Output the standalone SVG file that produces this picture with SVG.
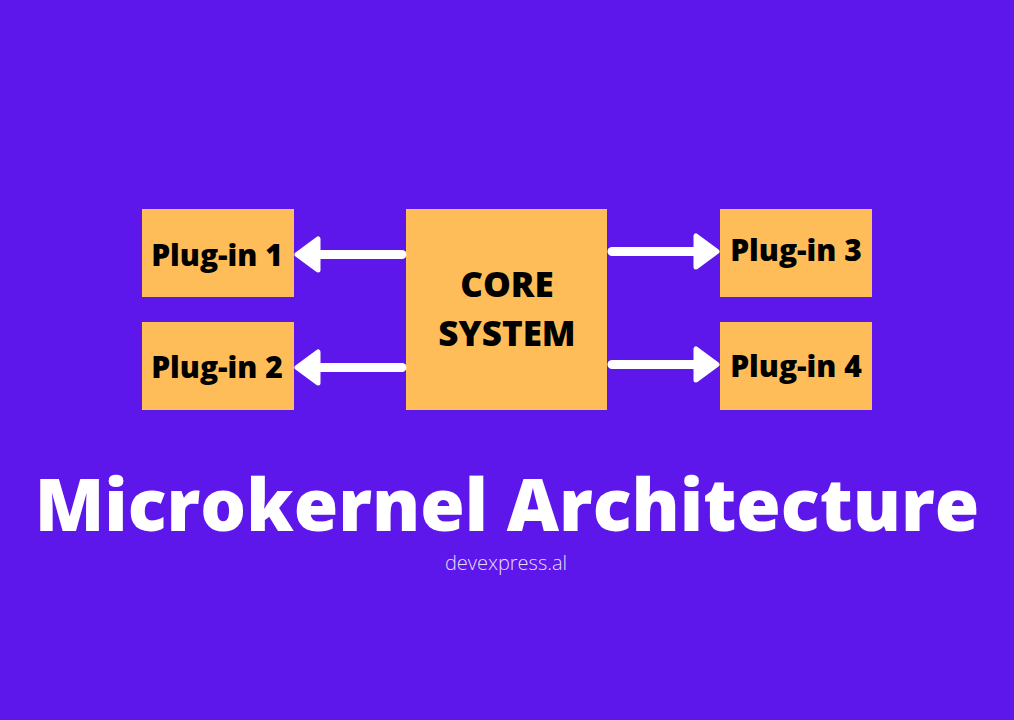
<svg xmlns="http://www.w3.org/2000/svg" width="1014" height="720" viewBox="0 0 1014 720">
<style>
.box{fill:#FFBD59;}
.lbl{font-family:"Open Sans","Liberation Sans",sans-serif;font-weight:800;fill:#000;text-anchor:middle;}
.shaft{stroke:#fff;stroke-width:9;stroke-linecap:round;fill:none;}
.head{fill:#fff;stroke:#fff;stroke-width:5;stroke-linejoin:round;}
</style>
<rect width="1014" height="720" fill="#5E17EB"/>
<g id="core"><rect class="box" x="406" y="209" width="201" height="201"/><text class="lbl" x="507" y="297" font-size="35">CORE</text><text class="lbl" x="507" y="346" font-size="35">SYSTEM</text></g>
<g id="plugin1"><rect class="box" x="142" y="209" width="152" height="88"/><text class="lbl" x="217" y="266" font-size="30">Plug-in 1</text></g>
<g id="plugin2"><rect class="box" x="142" y="322" width="152" height="88"/><text class="lbl" x="217" y="378" font-size="30">Plug-in 2</text></g>
<g id="plugin3"><rect class="box" x="720" y="209" width="152" height="88"/><text class="lbl" x="796" y="261" font-size="30">Plug-in 3</text></g>
<g id="plugin4"><rect class="box" x="720" y="322" width="152" height="88"/><text class="lbl" x="796" y="377" font-size="30">Plug-in 4</text></g>
<g id="connectors">
<line class="shaft" x1="402" y1="254.5" x2="315" y2="254.5"/><path class="head" d="M297,254.5 L318,239 L318,270 Z"/>
<line class="shaft" x1="402" y1="367.5" x2="315" y2="367.5"/><path class="head" d="M297,367.5 L318,352 L318,383 Z"/>
<line class="shaft" x1="612" y1="251.5" x2="700" y2="251.5"/><path class="head" d="M717,251.5 L696,236 L696,267 Z"/>
<line class="shaft" x1="612" y1="364.5" x2="700" y2="364.5"/><path class="head" d="M717,364.5 L696,349 L696,380 Z"/>
</g>
<text x="507" y="531" font-family="Open Sans, Liberation Sans, sans-serif" font-weight="800" font-size="72" fill="#fff" text-anchor="middle">Microkernel Architecture</text>
<text x="506" y="570" font-family="Open Sans, Liberation Sans, sans-serif" font-weight="300" font-size="20" fill="#E6DDFB" text-anchor="middle">devexpress.al</text>
</svg>
